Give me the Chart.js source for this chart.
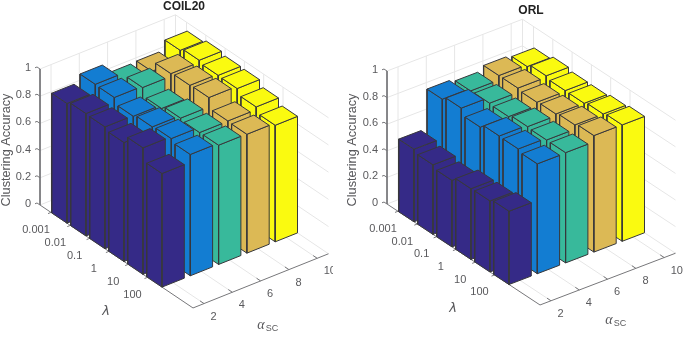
<!DOCTYPE html>
<html>
<head>
<meta charset="utf-8">
<style>
html, body { margin: 0; padding: 0; background: #fff; overflow: hidden; }
canvas { position: absolute; top: 0; filter: blur(0.45px); }
#coil { left: 0; }
#orl { left: 340px; }
</style>
<script src="https://cdn.jsdelivr.net/npm/chart.js@4"></script>
</head>
<body>
<canvas id="coil" width="333" height="337"></canvas>
<canvas id="orl" width="345" height="337"></canvas>
<script>
const lambdaLabels = ['0.001', '0.01', '0.1', '1', '10', '100'];
const alphaLabels = ['2', '4', '6', '8', '10'];
const zTicks = [0, 0.2, 0.4, 0.6, 0.8, 1];

// one list per alpha, values run along lambda
const coilA2 = [0.88, 0.90, 0.896, 0.875, 0.93, 0.835];
const coilA4 = [0.938, 0.935, 0.891, 0.907, 0.915, 0.892];
const coilA6 = [0.862, 0.925, 0.865, 0.888, 0.876, 0.877];
const coilA8 = [0.867, 0.944, 0.952, 0.956, 0.878, 0.874];
const coilA10 = [0.938, 0.959, 0.942, 0.939, 0.898, 0.857];

const orlA2 = [0.546, 0.523, 0.50, 0.532, 0.534, 0.551];
const orlA4 = [0.841, 0.868, 0.819, 0.847, 0.844, 0.826];
const orlA6 = [0.822, 0.824, 0.817, 0.836, 0.83, 0.829];
const orlA8 = [0.856, 0.856, 0.844, 0.85, 0.862, 0.876];
const orlA10 = [0.842, 0.867, 0.85, 0.849, 0.863, 0.875];

const barColors = ['#352a87', '#137dd2', '#38b99b', '#dcb955', '#fafa10'];
const edgeColor = '#38383c';
const gridColor = '#e6e6e6';
const axisColor = '#77777a';
const textColor = '#59595c';

// walls and floor, in axis units (lambda run, alpha run)
const lambdaRun = 153, alphaRun = 135.5;
const lambdaStep = 19, alphaStep = 28.3;
const barLambda = 15.3, barAlpha = 22.3;
const barStart = 11.7;

function makePanel(id, title, series, geo) {
    const project = (u, v, z) => ({
        x: geo.ox + u + v,
        y: geo.oy + u * geo.slopeU - v * geo.slopeV - z * geo.zScale
    });
    const datasets = [];
    const line = (pts, color, width) => datasets.push({
        data: pts, borderColor: color, borderWidth: width, showLine: true,
        pointRadius: 0, fill: false, tension: 0
    });
    const face = (pts, color) => datasets.push({
        data: pts.concat([pts[0]]), borderColor: edgeColor, borderWidth: 1, showLine: true,
        backgroundColor: color, pointRadius: 0, fill: 'shape', tension: 0
    });

    const uTicks = lambdaLabels.map((_, i) => 11 + 19.3 * i);
    const vTicks = alphaLabels.map((_, j) => 11 + alphaStep * j);

    // grid on the floor and both back walls
    uTicks.forEach(u => {
        line([project(u, 0, 0), project(u, alphaRun, 0), project(u, alphaRun, 1)], gridColor, 1);
    });
    vTicks.forEach(v => {
        line([project(0, v, 0), project(lambdaRun, v, 0)], gridColor, 1);
        line([project(0, v, 0), project(0, v, 1)], gridColor, 1);
    });
    zTicks.forEach(z => {
        line([project(0, 0, z), project(0, alphaRun, z), project(lambdaRun, alphaRun, z)], gridColor, 1);
    });
    line([project(0, alphaRun, 0), project(0, alphaRun, 1)], gridColor, 1);

    // axes and tick marks
    line([project(0, 0, 1), project(0, 0, 0), project(lambdaRun, 0, 0), project(lambdaRun, alphaRun, 0)], axisColor, 1);
    zTicks.forEach(z => line([project(0, 0, z), project(-3, 0, z), project(-3, -2, z)], axisColor, 1));
    uTicks.forEach(u => line([project(u, 0, 0), project(u, -3, 0)], axisColor, 1));
    vTicks.forEach(v => line([project(lambdaRun, v, 0), project(lambdaRun - 4, v, 0)], axisColor, 1));

    // bars, far ones first
    for (let j = series.length - 1; j >= 0; j--) {
        series[j].forEach((value, i) => {
            const u0 = barStart + lambdaStep * i, u1 = u0 + barLambda;
            const v0 = alphaStep * j, v1 = v0 + barAlpha;
            face([project(u0, v0, 0), project(u1, v0, 0), project(u1, v0, value), project(u0, v0, value)], barColors[j]);
            face([project(u1, v0, 0), project(u1, v1, 0), project(u1, v1, value), project(u1, v0, value)], barColors[j]);
            face([project(u0, v0, value), project(u1, v0, value), project(u1, v1, value), project(u0, v1, value)], barColors[j]);
        });
    }
    // Chart.js paints the first dataset last
    datasets.reverse();

    const textPlugin = {
        id: 'panelText',
        afterDraw(chart) {
            const ctx = chart.ctx;
            const px = p => [chart.scales.x.getPixelForValue(p.x), chart.scales.y.getPixelForValue(p.y)];
            const put = (s, x, y, font, color, align) => {
                ctx.font = font;
                ctx.fillStyle = color;
                ctx.textAlign = align || 'center';
                ctx.textBaseline = 'middle';
                ctx.fillText(s, x, y);
            };
            const tickFont = '11px "Liberation Sans"';
            ctx.save();
            put(title, geo.titleX, geo.titleY, 'bold 12px "Liberation Sans"', '#222');
            zTicks.forEach(z => {
                const [x, y] = px(project(0, 0, z));
                put(String(z), x - 9, y - 1, tickFont, textColor, 'right');
            });
            lambdaLabels.forEach((s, i) => {
                const [x, y] = px(project(uTicks[i], 0, 0));
                put(s, x - 15, y + 17.5, tickFont, textColor);
            });
            alphaLabels.forEach((s, j) => {
                const [x, y] = px(project(lambdaRun, vTicks[j], 0));
                put(s, x + 6.5, y + 13, tickFont, textColor, 'left');
            });
            put('\u03bb', geo.lambdaX, geo.lambdaY, 'italic 13px "DejaVu Sans"', textColor);
            put('\u03b1', geo.alphaX, geo.alphaY, 'italic 14px "Liberation Serif"', textColor);
            put('SC', geo.alphaX + 11, geo.alphaY + 4, '9px "Liberation Sans"', textColor);
            ctx.translate(geo.zLabelX, 150);
            ctx.rotate(-Math.PI / 2);
            put('Clustering Accuracy', 0, 0, '12.7px "Liberation Sans"', textColor);
            ctx.restore();
        }
    };

    const canvas = document.getElementById(id);
    return new Chart(canvas, {
        type: 'scatter',
        data: { datasets: datasets },
        plugins: [textPlugin],
        options: {
            responsive: false,
            animation: false,
            events: [],
            layout: { padding: 0 },
            plugins: { legend: { display: false }, tooltip: { enabled: false } },
            scales: {
                x: { type: 'linear', display: false, min: 0, max: canvas.width },
                y: { type: 'linear', display: false, min: 0, max: canvas.height, reverse: true }
            }
        }
    });
}

makePanel('coil', 'COIL20', [coilA2, coilA4, coilA6, coilA8, coilA10], {
    ox: 40, oy: 205, slopeU: 0.673, slopeV: 0.4, zScale: 136,
    titleX: 184, titleY: 7, zLabelX: 6,
    lambdaX: 106, lambdaY: 312, alphaX: 261, alphaY: 325
});

makePanel('orl', 'ORL', [orlA2, orlA4, orlA6, orlA8, orlA10], {
    ox: 47, oy: 204, slopeU: 0.66, slopeV: 0.382, zScale: 133,
    titleX: 191, titleY: 10.5, zLabelX: 12,
    lambdaX: 113, lambdaY: 309, alphaX: 269, alphaY: 320
});
</script>
</body>
</html>
